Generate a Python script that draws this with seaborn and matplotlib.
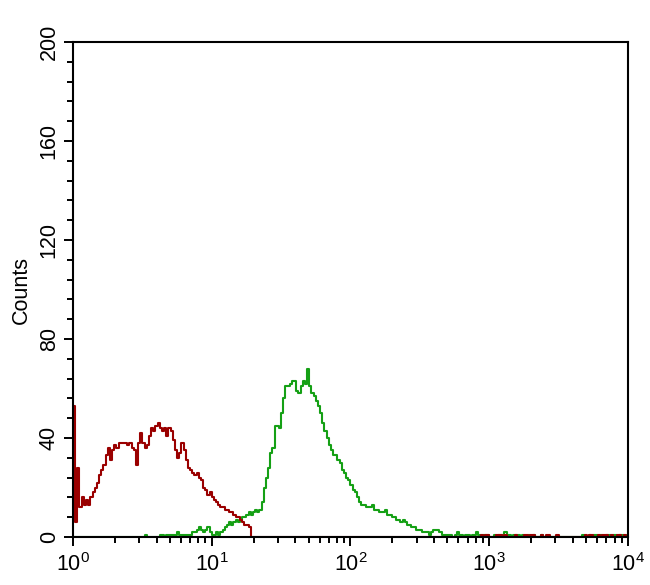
import numpy as np
import seaborn as sns
import matplotlib.pyplot as plt
from matplotlib.ticker import MultipleLocator, LogLocator, NullFormatter

# 256 log channels over 4 decades (64 channels per decade)
channels = np.arange(256)
fluor = 10 ** (channels / 64)

# isotype control (red), counts per channel
red_counts = ([53, 6, 28, 12, 16, 13, 15, 13, 16, 18,
               20, 22, 25, 27, 29, 33, 36, 31, 35, 37,
               36, 38, 38, 38, 38, 37, 38, 36, 35, 29,
               38, 42, 38, 36, 37, 41, 44, 43, 45, 46,
               44, 43, 44, 41, 44, 43, 39, 35, 32, 34,
               38, 35, 31, 28, 27, 26, 25, 26, 24, 23,
               20, 19, 17, 18, 16, 15, 14, 13, 12, 12,
               11, 11, 10, 10, 9, 8, 8, 7, 6, 5,
               5, 4]
              + [0] * 106
              + [1, 0, 1, 1, 0, 0, 0, 1, 1, 1, 0, 1, 0, 0, 0, 0, 1, 0,
                 0, 0, 1, 1, 0, 1, 1, 0, 0, 0, 1, 0, 1, 1, 0, 0, 0, 1]
              + [0] * 12
              + [1, 0, 1, 1, 0, 0, 1, 0, 1, 1, 1, 0, 1, 0, 0, 1, 1, 0, 1, 1])

# sample (green)
green_counts = ([0] * 33
                + [1, 0, 0, 0, 0, 0, 0]
                + [1, 1, 0, 1, 1, 1, 1, 1, 2, 1, 1, 1, 1, 1, 1, 2]
                + [2, 3, 4, 3, 2, 3, 4, 2, 1, 1, 2, 1, 2]
                + [3, 4, 5, 6, 5, 6, 7, 6, 7, 8, 8, 9, 10, 9, 10, 11]
                + [10, 11, 14, 20, 24, 28, 34, 36, 45, 45, 44, 50]
                + [56, 61, 61, 62, 63, 63, 59, 58, 61, 63, 62, 68, 61, 58, 57, 55]
                + [53, 50, 46, 43, 40, 37, 35, 33, 33, 31, 30, 27, 26, 24, 23, 21,
                   19, 18, 16, 14]
                + [13, 13, 12, 12, 12, 13, 11, 11, 10, 10, 10, 11, 9]
                + [9, 8, 8, 7, 7, 6, 7, 6, 5, 5, 4, 4, 3, 3, 3]
                + [2, 2, 2, 1, 2, 3, 3, 3, 2, 1, 1, 1]
                + [1, 1, 0, 1, 2, 1, 1, 0, 1, 1, 0, 1, 1, 2, 1, 0, 1, 1, 1, 0,
                   0, 1, 0, 1, 1, 1, 2, 1, 1, 0, 1, 1, 1, 0, 1, 0, 0, 1, 0, 1,
                   0, 0, 0, 1, 0]
                + [0] * 17
                + [1, 0, 0, 1, 0, 1, 1, 0, 1, 0, 0, 1, 1, 0, 1, 1, 0, 1, 1, 0, 1])

sns.set_style("ticks")
plt.rcParams["font.family"] = ["Liberation Sans", "DejaVu Sans"]
plt.rcParams["mathtext.default"] = "regular"
plt.rcParams["text.color"] = "black"
plt.rcParams["axes.labelcolor"] = "black"
plt.rcParams["xtick.color"] = "black"
plt.rcParams["ytick.color"] = "black"

fig = plt.figure(figsize=(6.5, 5.85), dpi=100)
ax = fig.add_axes([0.1123, 0.082, 0.8538, 0.8462])

sns.lineplot(x=fluor, y=green_counts, drawstyle="steps-post", estimator=None,
             color="#15a015", lw=1.5, ax=ax)
sns.lineplot(x=fluor, y=red_counts, drawstyle="steps-post", estimator=None,
             color="#9a0000", lw=1.5, ax=ax)

ax.set_xscale("log")
ax.set_xlim(1, 1e4)
ax.set_ylim(0, 200)
ax.set_xticks([1, 10, 100, 1000, 10000])
ax.set_xticklabels([r"$10^{%d}$" % i for i in range(5)])
ax.xaxis.set_minor_locator(LogLocator(base=10, subs=np.arange(2, 10)))
ax.xaxis.set_minor_formatter(NullFormatter())
ax.set_yticks(np.arange(0, 201, 40))
ax.yaxis.set_minor_locator(MultipleLocator(8))

for s in ax.spines.values():
    s.set_linewidth(1.5)
    s.set_color("black")
ax.tick_params(which="both", direction="out", width=1.4,
               top=False, right=False, labelsize=15.5, labelcolor="black")
ax.tick_params(which="major", length=6.5)
ax.tick_params(which="minor", length=4)
ax.tick_params(axis="x", pad=5)
ax.tick_params(axis="y", pad=3, labelrotation=90)
for lab in ax.get_yticklabels():
    lab.set_va("center")

ax.set_xlabel("")
ax.set_ylabel("Counts", fontsize=15.5, labelpad=5)

fig.savefig("out.png", dpi=100)
